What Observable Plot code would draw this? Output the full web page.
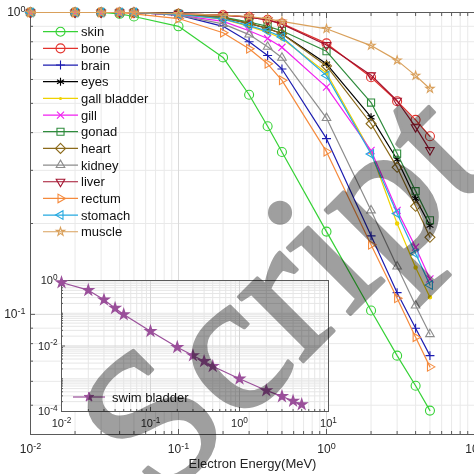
<!DOCTYPE html>
<html><head><meta charset="utf-8">
<script src="https://cdn.jsdelivr.net/npm/d3@7"></script>
<script src="https://cdn.jsdelivr.net/npm/@observablehq/plot@0.6"></script>
<style>
body{margin:0;background:#fff;}
#wrap{position:relative;width:474px;height:474px;overflow:hidden;background:#fff;font-family:"Liberation Sans",Arial,sans-serif;}
#wrap svg{position:absolute;}
</style></head><body><div id="wrap"></div>
<script>
// ---- data ----
const energy = [0.01,0.02,0.03,0.04,0.05,0.1,0.2,0.3,0.4,0.5,1,2,3,4,5];
const skin        = [1,1,1,0.99,0.97,0.90,0.71,0.534,0.42,0.345,0.188,0.103,0.073,0.058,0.048];
const bone        = [1,1,1,1,1,0.99,0.98,0.965,0.945,0.92,0.79,0.61,0.508,0.441,0.389];
const brain       = [1,1,1,1,1,0.98,0.90,0.80,0.72,0.65,0.382,0.182,0.118,0.09,0.073];
const eyes        = [1,1,1,1,1,0.99,0.96,0.92,0.885,0.85,0.676,0.45,0.326,0.242,0.197];
const gallBladder = [1,1,1,1,1,0.985,0.95,0.9,0.86,0.82,0.63,0.344,0.2,0.143,0.114];
const gill        = [1,1,1,1,1,0.98,0.935,0.87,0.82,0.767,0.566,0.349,0.221,0.167,0.131];
const gonad       = [1,1,1,1,1,0.99,0.965,0.93,0.9,0.87,0.744,0.503,0.341,0.256,0.205];
const heart       = [1,1,1,1,1,0.99,0.96,0.92,0.885,0.85,0.665,0.428,0.307,0.228,0.18];
const kidney      = [1,1,1,1,1,0.98,0.917,0.845,0.77,0.708,0.447,0.221,0.144,0.107,0.086];
const liver       = [1,1,1,1,1,0.99,0.98,0.965,0.945,0.915,0.78,0.62,0.51,0.417,0.35];
const rectum      = [1,1,1,1,0.99,0.955,0.857,0.758,0.676,0.596,0.346,0.17,0.113,0.084,0.067];
const stomach     = [1,1,1,1,1,0.985,0.953,0.905,0.868,0.83,0.618,0.34,0.216,0.159,0.125];
const muscle      = [1,1,1,1,1,0.99,0.98,0.97,0.953,0.934,0.883,0.777,0.694,0.618,0.559];
const swimBladder = [0.87,0.506,0.257,0.143,0.092,0.0283,0.0092,0.0051,0.0034,0.0024,0.001,0.00044,0.00029,0.00021,0.000164];

const organNames  = ["skin","bone","brain","eyes","gall bladder","gill","gonad","heart","kidney","liver","rectum","stomach","muscle"];
const organValues = [skin,bone,brain,eyes,gallBladder,gill,gonad,heart,kidney,liver,rectum,stomach,muscle];
const insetName = "swim bladder";
const xTitle = "Electron Energy(MeV)";
const watermarkText = "Script";

const xMajor = [0.01,0.1,1,10];
const yMajor = [0.1,1];
const yTickLabels = [0.1,1];
const insetYMajor = [1e-4,1e-2,1];

// ---- styles ----
const organColors  = ["#36d236","#e3322c","#1d1db0","#000000","#f0d200","#f020f0","#2e8b3c","#8c6a1a","#8c8c8c","#a3122e","#f58a3c","#25a9e0","#d9a05b"];
const organSymbols = ["circle","circle","plus","asterisk","circle","times","square","diamond2","triangle2","triangle2","triangle2","triangle2","star"];
const organRotate  = [0,0,0,0,0,0,0,0,0,180,90,-90,0];
const organR       = [4.5,4.5,3.0,3.8,1.5,3.3,4,4.5,4.1,4.1,4.1,4.1,2.6];
const insetColor = "#9a4f9a";

function minorTicks(lo, hi) {
  const out = [];
  for (let e = lo; e < hi; e++) for (let k = 2; k <= 9; k++) out.push(k * Math.pow(10, e));
  return out;
}
const fmt = d => "10^" + Math.round(Math.log10(d));
const blank = () => "";

const wrap = document.getElementById("wrap");

// ---- main chart ----
const marks = [
  Plot.gridX(minorTicks(-2, 1), {stroke: "#e9e9e9", strokeOpacity: 1}),
  Plot.gridY(minorTicks(-2, 0).filter(d => d >= 0.04), {stroke: "#e9e9e9", strokeOpacity: 1}),
  Plot.gridX(xMajor, {stroke: "#dadada", strokeOpacity: 1}),
  Plot.gridY(yMajor, {stroke: "#dadada", strokeOpacity: 1}),
  Plot.frame({stroke: "#5a5a5a"}),
  Plot.axisX(minorTicks(-2, 1), {tickSize: -3, tickFormat: blank, label: null, stroke: "#5a5a5a"}),
  Plot.axisX(minorTicks(-2, 1), {anchor: "top", tickSize: -3, tickFormat: blank, label: null, stroke: "#5a5a5a"}),
  Plot.axisY(minorTicks(-2, 0).filter(d => d >= 0.04), {tickSize: -3, tickFormat: blank, label: null, stroke: "#5a5a5a"}),
  Plot.axisX(xMajor, {tickSize: -5, tickPadding: 15, tickFormat: fmt, label: null, stroke: "#5a5a5a", fill: "#262626"}),
  Plot.axisX(xMajor, {anchor: "top", tickSize: -5, tickFormat: blank, label: null, stroke: "#5a5a5a"}),
  Plot.axisY(yTickLabels, {tickSize: -5, tickPadding: 10, tickFormat: fmt, label: null, stroke: "#5a5a5a", fill: "#262626"}),
  Plot.text([xTitle], {frameAnchor: "bottom", dy: 33, fontSize: 13, fill: "#262626"})
];
organNames.forEach((name, i) => {
  const rows = energy.map((e, j) => ({e, v: organValues[i][j]}));
  marks.push(Plot.line(rows, {x: "e", y: "v", stroke: organColors[i], strokeWidth: 1.2}));
  if (name === "gall bladder") {
    marks.push(Plot.dot(rows, {x: "e", y: "v", r: organR[i], fill: organColors[i], stroke: organColors[i]}));
  } else {
    marks.push(Plot.dot(rows, {x: "e", y: "v", r: organR[i], symbol: organSymbols[i], rotate: organRotate[i], fill: "none", stroke: organColors[i], strokeWidth: 1.1}));
  }
});

const main = Plot.plot({
  width: 474, height: 474,
  marginLeft: 30, marginRight: 0, marginTop: 12, marginBottom: 40,
  style: {background: "transparent", fontFamily: "'Liberation Sans', Arial, sans-serif", fontSize: "12px", color: "#262626"},
  x: {type: "log", domain: [0.01, 10]},
  y: {type: "log", domain: [0.04, 1]},
  marks
});
main.style.left = "0px"; main.style.top = "0px";
wrap.appendChild(main);

// ---- inset ----
const insetRows = energy.map((e, j) => ({e, v: swimBladder[j]}));
const inset = Plot.plot({
  width: 301, height: 163,
  marginLeft: 26, marginRight: 8, marginTop: 8, marginBottom: 24,
  style: {background: "transparent", fontFamily: "'Liberation Sans', Arial, sans-serif", fontSize: "11px", color: "#262626", overflow: "visible"},
  x: {type: "log", domain: [0.01, 10]},
  y: {type: "log", domain: [1e-4, 1]},
  marks: [
    Plot.frame({fill: "white", stroke: "none"}),
    Plot.gridX(minorTicks(-2, 1), {stroke: "#e6e6e6", strokeOpacity: 1}),
    Plot.gridY(minorTicks(-4, 0), {stroke: "#e6e6e6", strokeOpacity: 1}),
    Plot.gridY([1e-3, 1e-1], {stroke: "#e6e6e6", strokeOpacity: 1}),
    Plot.gridX(xMajor, {stroke: "#d6d6d6", strokeOpacity: 1}),
    Plot.gridY(insetYMajor, {stroke: "#d6d6d6", strokeOpacity: 1}),
    Plot.frame({stroke: "#5a5a5a"}),
    Plot.axisX(minorTicks(-2, 1), {tickSize: -2, tickFormat: blank, label: null, stroke: "#5a5a5a"}),
    Plot.axisY(minorTicks(-4, 0).concat([1e-3, 1e-1]), {tickSize: -2, tickFormat: blank, label: null, stroke: "#5a5a5a"}),
    Plot.axisX(xMajor, {tickSize: -4, tickPadding: 12, tickFormat: fmt, label: null, stroke: "#5a5a5a", fill: "#262626"}),
    Plot.axisY(insetYMajor, {tickSize: -4, tickPadding: 8, tickFormat: fmt, label: null, stroke: "#5a5a5a", fill: "#262626"}),
    Plot.line(insetRows, {x: "e", y: "v", stroke: insetColor, strokeWidth: 1.2}),
    Plot.dot(insetRows, {x: "e", y: "v", r: 3, symbol: "star", fill: insetColor, stroke: insetColor})
  ]
});
inset.style.left = "35px"; inset.style.top = "272px";
wrap.appendChild(inset);

// ---- superscript tick labels ----
function supers(svg) {
  d3.select(svg).selectAll("text").each(function () {
    const t = this.textContent;
    const m = /^10\^(-?\d+)$/.exec(t);
    if (!m) return;
    const sel = d3.select(this);
    sel.text("");
    sel.append("tspan").text("10");
    sel.append("tspan").attr("dy", "-0.5em").attr("font-size", "0.75em").text(m[1]);
  });
}
supers(main); supers(inset);

// ---- legends ----
const symMap = {circle: d3.symbolCircle, plus: d3.symbolPlus, asterisk: d3.symbolAsterisk, times: d3.symbolTimes,
  square: d3.symbolSquare, diamond2: d3.symbolDiamond2, triangle2: d3.symbolTriangle2, star: d3.symbolStar};
const lg = d3.select(main).append("g").attr("font-size", 13).attr("fill", "#111").attr("text-anchor", "start");
organNames.forEach((name, i) => {
  const y = 31.7 + i * 16.67;
  const c = organColors[i];
  lg.append("line").attr("x1", 43).attr("x2", 78).attr("y1", y).attr("y2", y).attr("stroke", c).attr("stroke-width", 1.2);
  if (name === "gall bladder") {
    lg.append("circle").attr("cx", 60.5).attr("cy", y).attr("r", organR[i]).attr("fill", c);
  } else {
    lg.append("path").attr("d", d3.symbol(symMap[organSymbols[i]], organR[i] * organR[i] * Math.PI)())
      .attr("transform", `translate(60.5,${y}) rotate(${organRotate[i]})`)
      .attr("fill", "none").attr("stroke", c).attr("stroke-width", 1.1);
  }
  lg.append("text").attr("x", 81).attr("y", y).attr("dy", "0.36em").text(name);
});
const ilg = d3.select(inset).append("g").attr("font-size", 13).attr("fill", "#111").attr("text-anchor", "start");
ilg.append("line").attr("x1", 38).attr("x2", 70).attr("y1", 125).attr("y2", 125).attr("stroke", insetColor).attr("stroke-width", 1.2);
ilg.append("path").attr("d", d3.symbol(d3.symbolStar, 9 * Math.PI)()).attr("transform", "translate(54,125)").attr("fill", insetColor).attr("stroke", insetColor);
ilg.append("text").attr("x", 77).attr("y", 125).attr("dy", "0.36em").text(insetName);

// ---- watermark ----
const wm = d3.select(wrap).append("svg").attr("width", 474).attr("height", 474)
  .style("left", "0px").style("top", "0px").style("mix-blend-mode", "multiply").style("pointer-events", "none");
wm.append("text").attr("transform", "translate(328,337) rotate(-45)")
  .attr("text-anchor", "middle").attr("font-family", "Liberation Serif, DejaVu Serif, serif")
  .attr("font-size", 200).attr("fill", "#9f9f9f").attr("stroke", "#9f9f9f").attr("stroke-width", 3)
  .attr("stroke-linejoin", "round").text(watermarkText);
</script>
</body></html>
